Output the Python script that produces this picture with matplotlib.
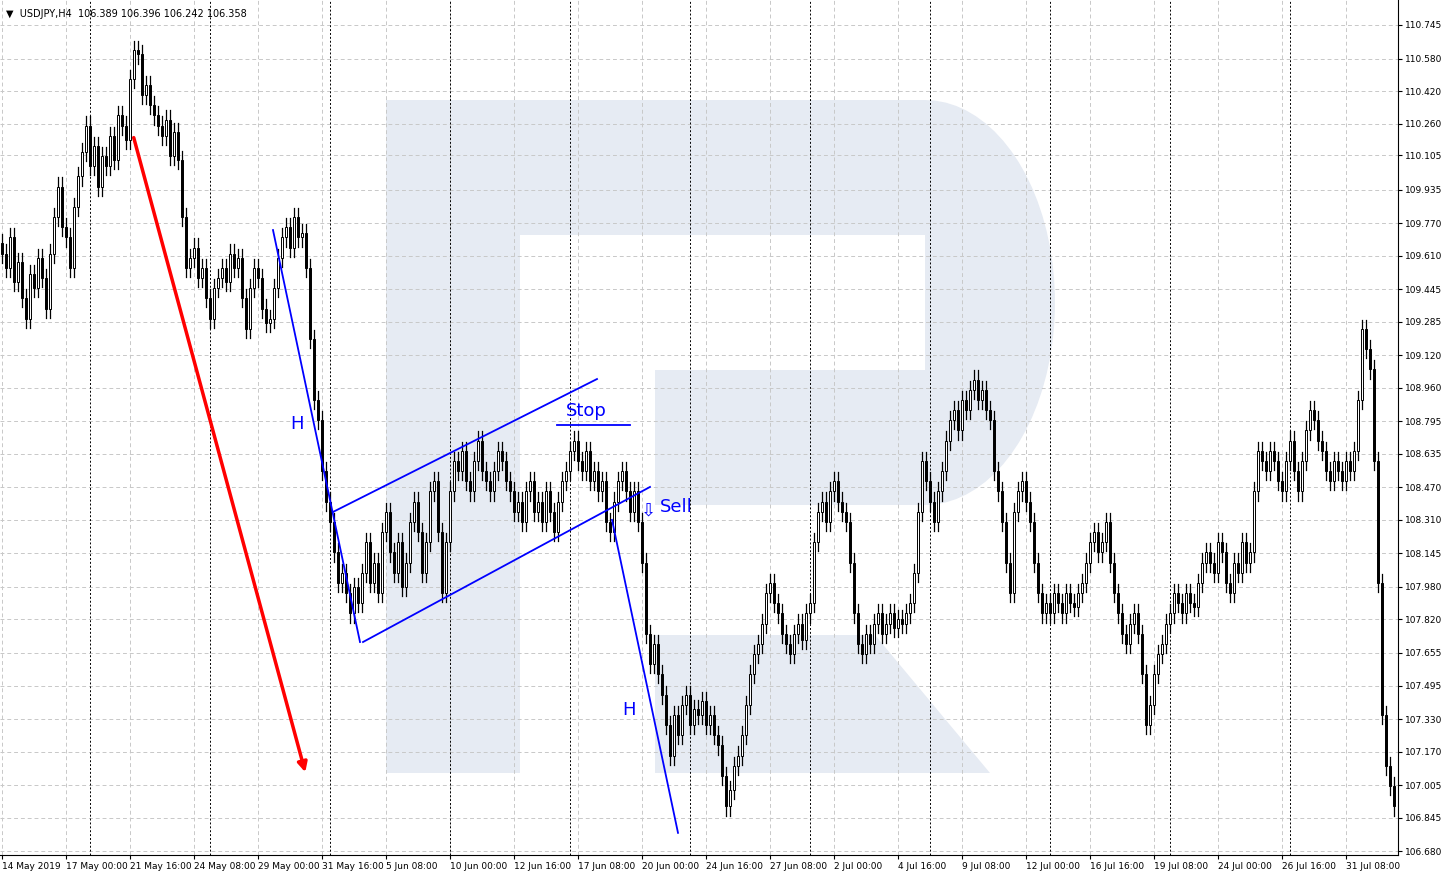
import matplotlib
matplotlib.use("Agg")
import matplotlib.pyplot as plt
from matplotlib.patches import Polygon, Rectangle
import numpy as np

closes = [
109.62,109.55,109.70,109.48,109.58,109.40,109.30,109.52,109.45,109.60,
109.50,109.35,109.62,109.80,109.95,109.75,109.70,109.55,109.85,110.00,110.12,110.25,110.05,
110.15,109.95,110.10,110.05,110.20,110.08,110.30,110.25,110.18,
110.48,110.62,110.60,
110.40,110.45,110.35,110.30,110.25,110.20,110.28,110.10,110.22,110.08,
109.80,109.55,
109.60,109.65,109.50,109.55,109.40,109.30,109.45,109.50,109.55,109.48,109.62,109.55,109.60,109.40,109.25,109.45,109.55,109.50,109.35,109.28,109.30,
109.45,109.60,109.70,109.75,109.65,109.80,109.70,109.72,
109.55,109.20,108.90,108.80,108.55,108.40,108.30,
108.15,108.00,108.05,107.95,107.85,107.98,107.90,108.05,
108.20,108.00,108.10,107.95,108.25,108.35,108.15,108.05,108.20,107.98,108.10,108.30,108.40,108.25,108.05,108.20,108.45,108.50,108.25,107.95,
108.20,108.45,108.60,108.55,108.65,108.50,108.45,108.60,108.70,108.55,108.50,108.45,108.55,108.65,108.60,
108.50,108.45,108.35,108.40,108.30,108.45,108.50,108.35,108.40,108.30,108.45,108.35,108.25,108.40,108.50,
108.55,108.65,108.70,108.60,108.55,108.65,108.50,108.55,108.45,108.50,
108.30,108.25,108.40,108.50,108.55,108.45,108.35,108.45,108.30,108.10,
107.75,107.60,107.70,107.55,107.45,
107.30,107.15,107.35,107.25,107.40,107.45,107.30,107.38,107.35,107.42,
107.30,107.35,107.25,107.20,107.05,
106.90,106.98,107.10,107.15,107.25,
107.40,107.55,107.65,107.70,107.80,107.95,108.00,107.90,107.85,107.75,
107.70,107.65,107.75,107.80,107.72,107.85,107.90,
108.20,108.35,108.40,108.30,108.45,108.50,108.40,108.35,108.30,108.10,
107.85,107.70,107.65,107.75,107.70,
107.80,107.85,107.75,107.80,107.85,107.78,107.82,107.80,107.85,107.90,
108.05,108.35,108.60,108.50,108.40,108.30,108.45,108.55,
108.70,108.80,108.85,108.75,108.90,108.85,108.95,109.00,108.90,108.95,108.85,108.80,
108.55,108.45,108.30,
108.10,107.95,
108.35,108.45,108.50,108.40,108.30,
108.10,107.95,107.85,107.90,107.85,
107.95,107.90,107.85,107.95,107.90,107.88,107.95,108.00,
108.10,108.20,108.25,108.15,108.20,108.30,108.10,
107.95,107.85,107.75,107.70,107.80,107.85,107.75,107.55,
107.30,107.40,
107.55,107.65,107.70,107.80,107.85,
107.95,107.90,107.85,107.95,107.90,107.88,108.00,108.10,
108.15,108.10,108.05,108.20,108.15,108.00,107.95,108.10,108.05,108.20,108.10,108.15,
108.45,108.65,108.60,
108.55,108.65,108.60,108.50,108.45,108.60,108.70,108.55,108.45,108.60,
108.75,108.85,108.80,108.70,108.65,
108.55,108.50,108.60,108.55,108.50,108.60,108.55,108.65,
108.90,109.25,109.15,109.05,
108.60,108.00,
107.35,107.10,107.00,106.90,
]

price_ticks = [110.745,110.580,110.420,110.260,110.105,109.935,109.770,109.610,109.445,109.285,
               109.120,108.960,108.795,108.635,108.470,108.310,108.145,107.980,107.820,107.655,
               107.495,107.330,107.170,107.005,106.845,106.680]
date_labels = ["14 May 2019","17 May 00:00","21 May 16:00","24 May 08:00","29 May 00:00",
               "31 May 16:00","5 Jun 08:00","10 Jun 00:00","12 Jun 16:00","17 Jun 08:00",
               "20 Jun 00:00","24 Jun 16:00","27 Jun 08:00","2 Jul 00:00","4 Jul 16:00",
               "9 Jul 08:00","12 Jul 00:00","16 Jul 16:00","19 Jul 08:00","24 Jul 00:00",
               "26 Jul 16:00","31 Jul 08:00"]
week_separators = [22, 52, 82, 112, 142, 172, 202, 232, 262, 292, 322]

W, H = 1444, 874
fig = plt.figure(figsize=(W/100, H/100), dpi=100)

bg = fig.add_axes([0, 0, 1, 1], zorder=0)
bg.set_xlim(0, W); bg.set_ylim(H, 0); bg.axis("off")
logo = "#e6ebf3"
bg.add_patch(Rectangle((386, 100), 134, 673, color=logo, lw=0))
cx, cy, r = 925, 302.5, 202.5
outer = [(520, 100)] + [(cx + 130*np.cos(t), cy + r*np.sin(t)) for t in np.linspace(-np.pi/2, np.pi/2, 40)] \
        + [(655, 505), (655, 370), (925, 370), (925, 235), (520, 235)]
bg.add_patch(Polygon(outer, closed=True, color=logo, lw=0))
bg.add_patch(Polygon([(655, 635), (875, 635), (990, 773), (655, 773)], closed=True, color=logo, lw=0))

ax = fig.add_axes([0, 19/874, 1398/1444, 855/874], zorder=1)
ax.patch.set_alpha(0)
n = len(closes)
opens = [closes[0] + 0.05] + closes[:-1]
for i in range(n):
    o, c = opens[i], closes[i]
    hi, lo = max(o, c) + 0.045, min(o, c) - 0.045
    ax.plot([i, i], [lo, hi], color="black", lw=0.9, zorder=3)
    bottom, height = min(o, c), max(abs(c - o), 0.004)
    ax.add_patch(Rectangle((i - 0.35, bottom), 0.7, height, facecolor="white" if c >= o else "black",
                           edgecolor="black", lw=0.7, zorder=4))

ax.set_xlim(-0.5, 349)
ax.set_ylim(106.661, 110.868)
ax.yaxis.tick_right()
ax.set_yticks(price_ticks)
ax.set_yticklabels([f"{p:.3f}" for p in price_ticks], fontsize=6.5)
ax.set_xticks(np.arange(len(date_labels)) * 16)
ax.set_xticklabels(date_labels, fontsize=6.5, ha="left")
ax.tick_params(length=3, pad=2)
ax.grid(True, color="#c8c8c8", ls=(0, (4, 3)), lw=0.7, zorder=1)
for s in week_separators:
    ax.axvline(s, color="black", ls=(0, (2, 2)), lw=0.7, zorder=2)
for sp in ["top", "left"]:
    ax.spines[sp].set_visible(False)

ax.annotate("", xy=(76, 107.055), xytext=(32.75, 110.204),
            arrowprops=dict(arrowstyle="-|>", color="#ff0000", lw=2.5, mutation_scale=14), zorder=6)
blue = "#0000ff"
for (x0, y0), (x1, y1) in [((67.75, 109.736), (89.5, 107.709)), ((82.75, 108.349), (148.75, 109.003)),
                           ((90.25, 107.709), (162, 108.472)), ((152.5, 108.310), (169, 106.770)),
                           ((138.75, 108.777), (157, 108.777))]:
    ax.plot([x0, x1], [y0, y1], color=blue, lw=1.3, zorder=6)
ax.text(73.75, 108.782, "H", color=blue, fontsize=13, ha="center", va="center", zorder=7)
ax.text(156.75, 107.375, "H", color=blue, fontsize=13, ha="center", va="center", zorder=7)
ax.text(146, 108.846, "Stop", color=blue, fontsize=13, ha="center", va="center", zorder=7)
ax.text(164.5, 108.374, "Sell", color=blue, fontsize=13, ha="left", va="center", zorder=7)
ax.text(161.5, 108.354, "⇩", color=blue, fontsize=13, ha="center", va="center", zorder=7)

fig.text(0.004, 0.990, "▼  USDJPY,H4  106.389 106.396 106.242 106.358", fontsize=7, va="top")
fig.savefig("out.png", dpi=100)
